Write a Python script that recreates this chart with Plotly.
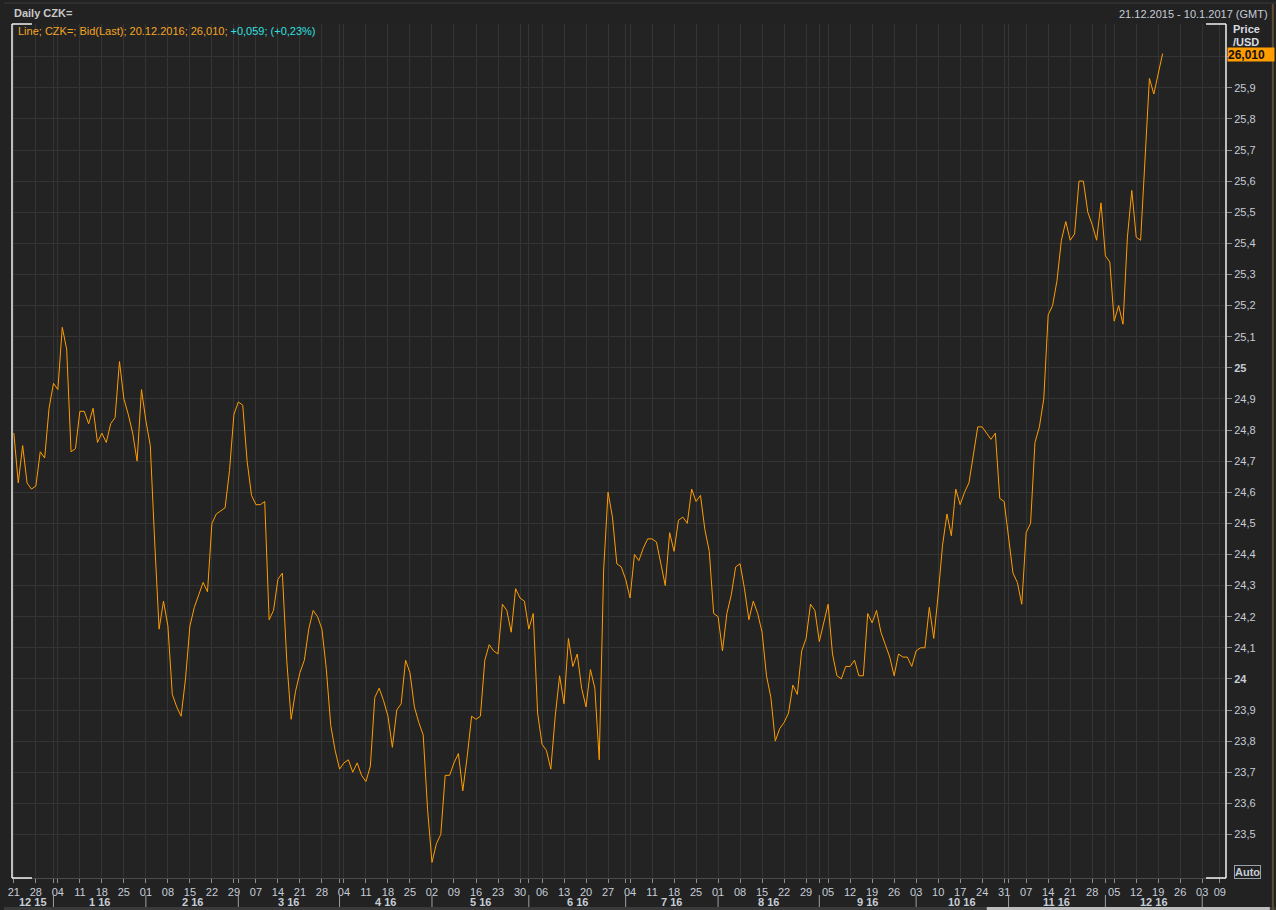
import pandas as pd
import plotly.graph_objects as go

# ---- data: daily USD/CZK bid (last) ----
dec15 = [24.79, 24.63, 24.75, 24.63, 24.61, 24.62, 24.73, 24.71, 24.87]
jan16 = [24.95, 24.93, 25.13, 25.06, 24.73, 24.74, 24.86, 24.86, 24.82, 24.87, 24.76,
         24.79, 24.76, 24.82, 24.84, 25.02, 24.90, 24.85, 24.79, 24.70, 24.93]
feb16 = [24.83, 24.75, 24.44, 24.16, 24.25, 24.17, 23.95, 23.91, 23.88, 24.00, 24.17,
         24.23, 24.27, 24.31, 24.28, 24.50, 24.53, 24.54, 24.55, 24.67, 24.85]
mar16 = [24.89, 24.88, 24.70, 24.59, 24.56, 24.56, 24.57, 24.19, 24.22, 24.32, 24.34,
         24.06, 23.87, 23.96, 24.02, 24.06, 24.16, 24.22, 24.20, 24.16, 24.03, 23.85, 23.77]
apr16 = [23.71, 23.73, 23.74, 23.70, 23.73, 23.69, 23.67, 23.72, 23.94, 23.97, 23.93,
         23.88, 23.78, 23.90, 23.92, 24.06, 24.02, 23.91, 23.86, 23.82, 23.58]
may16 = [23.41, 23.47, 23.50, 23.69, 23.69, 23.73, 23.76, 23.64, 23.75, 23.88, 23.87,
         23.88, 24.06, 24.11, 24.09, 24.08, 24.24, 24.22, 24.15, 24.29, 24.26, 24.25]
jun16 = [24.16, 24.21, 23.89, 23.79, 23.77, 23.71, 23.88, 24.01, 23.92, 24.13, 24.04,
         24.08, 23.97, 23.91, 24.03, 23.97, 23.74, 24.35, 24.60, 24.52, 24.37, 24.36]
jul16 = [24.32, 24.26, 24.40, 24.38, 24.42, 24.45, 24.45, 24.44, 24.37, 24.30, 24.47,
         24.41, 24.51, 24.52, 24.50, 24.61, 24.57, 24.59, 24.48, 24.41, 24.21]
aug16 = [24.20, 24.09, 24.21, 24.27, 24.36, 24.37, 24.29, 24.19, 24.25, 24.21, 24.15,
         24.01, 23.94, 23.80, 23.84, 23.86, 23.89, 23.98, 23.95, 24.09, 24.13, 24.24, 24.22]
sep16 = [24.12, 24.18, 24.24, 24.08, 24.01, 24.00, 24.04, 24.04, 24.06, 24.01, 24.01,
         24.21, 24.18, 24.22, 24.15, 24.11, 24.07, 24.01, 24.08, 24.07, 24.07, 24.04]
oct16 = [24.09, 24.10, 24.10, 24.23, 24.13, 24.27, 24.43, 24.53, 24.46, 24.61, 24.56,
         24.60, 24.63, 24.72, 24.81, 24.81, 24.79, 24.77, 24.79, 24.58, 24.57]
nov16 = [24.45, 24.34, 24.31, 24.24, 24.47, 24.50, 24.76, 24.81, 24.90, 25.17, 25.20,
         25.28, 25.41, 25.47, 25.41, 25.43, 25.60, 25.60, 25.50, 25.46, 25.41, 25.53]
dec16 = [25.36, 25.34, 25.15, 25.20, 25.14, 25.42, 25.57, 25.42, 25.41, 25.66, 25.93,
         25.88, 25.95, 26.01]

values = (dec15 + jan16 + feb16 + mar16 + apr16 + may16 + jun16 + jul16 +
          aug16 + sep16 + oct16 + nov16 + dec16)

title_text = "Daily CZK="
period_text = "21.12.2015 - 10.1.2017 (GMT)"
legend_main = "Line; CZK=; Bid(Last); 20.12.2016; 26,010; "
legend_chg = "+0,059; (+0,23%)"
last_label = "26,010"
y_ticks = [round(23.5 + 0.1 * k, 1) for k in range(26)]

# ---- trading-day time axis (weekdays; 2.1.2017 skipped by the chart) ----
days = pd.bdate_range("2015-12-21", "2017-01-10")
days = days[days != pd.Timestamp("2017-01-02")]
pos = list(range(len(days)))
x = pos[:len(values)]

weeks = days.to_period("W")
tick_idx = [i for i in pos if i == 0 or weeks[i] != weeks[i - 1]]
tick_txt = [days[i].strftime("%d") for i in tick_idx]
month_idx = [i for i in pos if i > 0 and days[i].month != days[i - 1].month]

X0, X1 = -0.42, 275.4
Y0, Y1 = 23.36, 26.105

# layout geometry (pixels)
W_FIG, H_FIG = 1276, 910
L, R, T, B = 8, 50, 24, 32
PW, PH = W_FIG - L - R, H_FIG - T - B


def px(X):
    return (X - L) / PW


def py(Y):
    return (H_FIG - B - Y) / PH


BG = "#222222"
PLOT_BG = "#232323"
GRID = "#343434"
TXT = "#c6cdd8"
ORANGE = "#ff9c00"
FONT = "Liberation Sans"

fig = go.Figure()
fig.add_trace(go.Scatter(x=x, y=values, mode="lines",
                         line=dict(color=ORANGE, width=1), hoverinfo="skip"))

y_txt = [("<b>%d</b>" % v) if abs(v - round(v)) < 1e-9 else ("%.1f" % v).replace(".", ",")
         for v in y_ticks]

fig.update_layout(
    width=W_FIG, height=H_FIG, autosize=False,
    paper_bgcolor=BG, plot_bgcolor=PLOT_BG,
    margin=dict(l=L, r=R, t=T, b=B, pad=0),
    showlegend=False,
    font=dict(family=FONT, size=11, color=TXT),
    xaxis=dict(range=[X0, X1], tickmode="array", tickvals=tick_idx, ticktext=tick_txt,
               showgrid=True, gridcolor=GRID, gridwidth=1, zeroline=False,
               ticks="outside", ticklen=4, tickcolor="#8a8f96", tickwidth=1,
               showline=True, linecolor="#4a4a4a", linewidth=1,
               tickfont=dict(family=FONT, size=11, color=TXT),
               minor=dict(tickmode="array", tickvals=month_idx, showgrid=True,
                          gridcolor=GRID, ticks="outside", ticklen=4,
                          tickcolor="#8a8f96")),
    yaxis=dict(side="right", range=[Y0, Y1], tickmode="array", tickvals=y_ticks,
               ticktext=y_txt, showgrid=True, gridcolor=GRID, gridwidth=1,
               zeroline=False, ticks="outside", ticklen=5, tickcolor="#8a8f96",
               showline=False, tickfont=dict(family=FONT, size=11, color=TXT)),
)

shapes = []
W = dict(color="#f2f2f2", width=1.5)
# white corner brackets around the plot area
shapes += [
    dict(type="line", xref="paper", yref="paper", x0=0, x1=0, y0=0, y1=1, line=W),
    dict(type="line", xref="paper", yref="paper", x0=1, x1=1, y0=0, y1=1, line=W),
    dict(type="line", xref="paper", yref="paper", x0=0, x1=20 / PW, y0=1, y1=1, line=W),
    dict(type="line", xref="paper", yref="paper", x0=0, x1=20 / PW, y0=0, y1=0, line=W),
    dict(type="line", xref="paper", yref="paper", x0=1 - 20 / PW, x1=1, y0=1, y1=1, line=W),
    dict(type="line", xref="paper", yref="paper", x0=1 - 20 / PW, x1=1, y0=0, y1=0, line=W),
]
# month separators in the lower band
for m in month_idx:
    shapes.append(dict(type="line", xref="x", yref="paper", x0=m, x1=m,
                       y0=py(895), y1=py(910), line=dict(color="#9aa0a8", width=1)))
# scrollbar strip and right frame edge
shapes.append(dict(type="rect", xref="paper", yref="paper", x0=px(0), x1=px(1276),
                   y0=py(907), y1=py(910), fillcolor="#3a3a3a", line=dict(width=0), layer="above"))
shapes.append(dict(type="rect", xref="paper", yref="paper", x0=px(986), x1=px(1270),
                   y0=py(907), y1=py(910), fillcolor="#bdbdbd", line=dict(width=0), layer="above"))
shapes.append(dict(type="line", xref="paper", yref="paper", x0=px(1273), x1=px(1273),
                   y0=py(910), y1=py(4), line=dict(color="#5c4c30", width=2)))
# header separator line
shapes.append(dict(type="line", xref="paper", yref="paper", x0=px(0), x1=px(1276),
                   y0=py(3), y1=py(3), line=dict(color="#3a3a3a", width=1)))
fig.update_layout(shapes=shapes)

ann = []
# month labels
starts = [X0] + month_idx
ends = month_idx + [X1]
for s, e in zip(starts, ends):
    if e - s < 8:
        continue
    d = days[int(round(max(s, 0)))]
    ann.append(dict(x=(s + e) / 2, y=py(902), xref="x", yref="paper",
                    text="<b>%d %s</b>" % (d.month, d.strftime("%y")), showarrow=False,
                    font=dict(family=FONT, size=11, color=TXT), yanchor="middle"))
# header texts
ann.append(dict(x=px(8), y=py(13), xref="paper", yref="paper", xanchor="left",
                yanchor="middle", text="<b>%s</b>" % title_text, showarrow=False,
                font=dict(family=FONT, size=11, color="#c8c8c8")))
ann.append(dict(x=px(1270), y=py(14), xref="paper", yref="paper", xanchor="right",
                yanchor="middle", text=period_text, showarrow=False,
                font=dict(family=FONT, size=11, color=TXT)))
ann.append(dict(x=px(12), y=py(31), xref="paper", yref="paper", xanchor="left",
                yanchor="middle", showarrow=False,
                text="<span style='color:#f5a623'>%s</span><span style='color:#2fe0e0'>%s</span>"
                     % (legend_main, legend_chg),
                font=dict(family=FONT, size=11)))
ann.append(dict(x=px(1231), y=py(29), xref="paper", yref="paper", xanchor="left",
                yanchor="middle", text="<b>Price</b>", showarrow=False,
                font=dict(family=FONT, size=11, color="#d8dce2")))
ann.append(dict(x=px(1231), y=py(42), xref="paper", yref="paper", xanchor="left",
                yanchor="middle", text="<b>/USD</b>", showarrow=False,
                font=dict(family=FONT, size=11, color="#d8dce2")))
# last value box on the price axis
ann.append(dict(x=px(1227), y=py(54), xref="paper", yref="paper", xanchor="left",
                yanchor="middle", text="<b>%s</b>" % last_label, showarrow=False,
                bgcolor=ORANGE, borderpad=0, width=46, height=13, align="left",
                font=dict(family=FONT, size=12, color="#111111")))
# Auto button
ann.append(dict(x=px(1234), y=py(872), xref="paper", yref="paper", xanchor="left",
                yanchor="middle", text="<b>Auto</b>", showarrow=False,
                bordercolor="#9aa0a8", borderwidth=1, borderpad=0,
                font=dict(family=FONT, size=11, color=TXT)))
fig.update_layout(annotations=ann)

fig.write_html("out.html", config={"displayModeBar": False},
               post_script="document.body.style.margin='0';")
